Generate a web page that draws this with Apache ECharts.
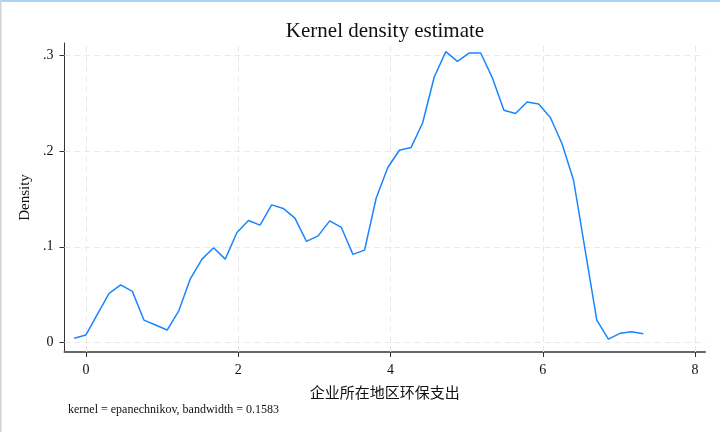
<!DOCTYPE html>
<html>
<head>
<meta charset="utf-8">
<script src="https://cdn.jsdelivr.net/npm/echarts@6/dist/echarts.min.js"></script>
<style>html,body{margin:0;padding:0;background:#fff}#c{width:720px;height:432px}</style>
</head>
<body>
<div id="c"></div>
<script>
var xValues = [-0.154,-0.002,0.151,0.304,0.456,0.609,0.761,0.914,1.066,1.219,1.371,1.524,1.676,1.829,1.981,2.134,2.286,2.439,2.591,2.744,2.896,3.049,3.201,3.354,3.506,3.659,3.811,3.964,4.116,4.269,4.421,4.574,4.726,4.879,5.031,5.184,5.336,5.489,5.641,5.794,5.946,6.099,6.251,6.404,6.556,6.709,6.861,7.014,7.166,7.319];
var density = [0.0042,0.0076,0.0296,0.0512,0.0602,0.0533,0.0233,0.0181,0.0129,0.0330,0.0665,0.0871,0.0989,0.0871,0.1146,0.1275,0.1226,0.1438,0.1401,0.1299,0.1056,0.1114,0.1271,0.1202,0.0920,0.0965,0.1508,0.1829,0.2010,0.2038,0.2295,0.2776,0.3042,0.2940,0.3027,0.3027,0.2770,0.2428,0.2394,0.2515,0.2494,0.2352,0.2080,0.1696,0.0965,0.0233,0.0034,0.0094,0.0111,0.0090];
var xTicks = [0,2,4,6,8];
var yTicks = [0,0.1,0.2,0.3];
var titleText = 'Kernel density estimate';
var xName = '企业所在地区环保支出';
var yName = 'Density';
var note = 'kernel = epanechnikov, bandwidth = 0.1583';

var pts = xValues.map(function(x,i){return [x, density[i]];});
var gridStyle = {color:'#e9e9e9', type:[6,4], width:1};
var markData = yTicks.map(function(v){return {yAxis:v};}).concat(xTicks.map(function(v){return {xAxis:v};}));

var chart = echarts.init(document.getElementById('c'), null, {renderer:'canvas'});
chart.setOption({
  backgroundColor:'#fff',
  animation:false,
  grid:{left:64.5, right:15, top:43, bottom:80, containLabel:false},
  xAxis:{type:'value', min:-0.282, max:8.13,
    name:xName, nameLocation:'middle', nameGap:33,
    nameTextStyle:{fontFamily:'Noto Sans CJK SC', fontSize:15, color:'#111'},
    axisLine:{show:true, onZero:false, lineStyle:{color:'#666', width:2}},
    axisTick:{show:true, customValues:xTicks, length:5, lineStyle:{color:'#333'}},
    axisLabel:{customValues:xTicks, margin:11, fontFamily:'Liberation Serif', fontSize:14, color:'#111'},
    splitLine:{show:false}},
  yAxis:{type:'value', min:-0.0101, max:0.3132,
    name:yName, nameLocation:'middle', nameGap:23, nameRotate:90,
    nameTextStyle:{fontFamily:'Liberation Serif', fontSize:15, color:'#111'},
    axisLine:{show:true, onZero:false, lineStyle:{color:'#333', width:1}},
    axisTick:{show:true, customValues:yTicks, length:5, lineStyle:{color:'#333'}},
    axisLabel:{customValues:yTicks, margin:11, fontFamily:'Liberation Serif', fontSize:14, color:'#111',
      formatter:function(v){ if (Math.abs(v)<1e-9) return '0'; return String(Math.round(v*10)/10).replace(/^0/,''); }},
    splitLine:{show:false}},
  series:[{type:'line', data:pts, showSymbol:false, symbol:'none',
    lineStyle:{color:'#1a85ff', width:1.5}, z:3,
    markLine:{silent:true, symbol:['none','none'], label:{show:false}, lineStyle:gridStyle, data:markData, z:1, animation:false}}],
  graphic:[
    {type:'text', x:385, y:21, style:{text:titleText, textAlign:'center', fontFamily:'Liberation Serif', fontSize:21, fill:'#111'}},
    {type:'text', left:68, top:404, style:{text:note, fontFamily:'Liberation Serif', fontSize:12, fill:'#111'}},
    {type:'rect', left:0, top:0, shape:{width:720, height:2}, style:{fill:'#a9d3f5'}},
    {type:'rect', left:0, top:0, shape:{width:1.5, height:432}, style:{fill:'#d4d4d4'}}
  ]
});
</script>
</body>
</html>
